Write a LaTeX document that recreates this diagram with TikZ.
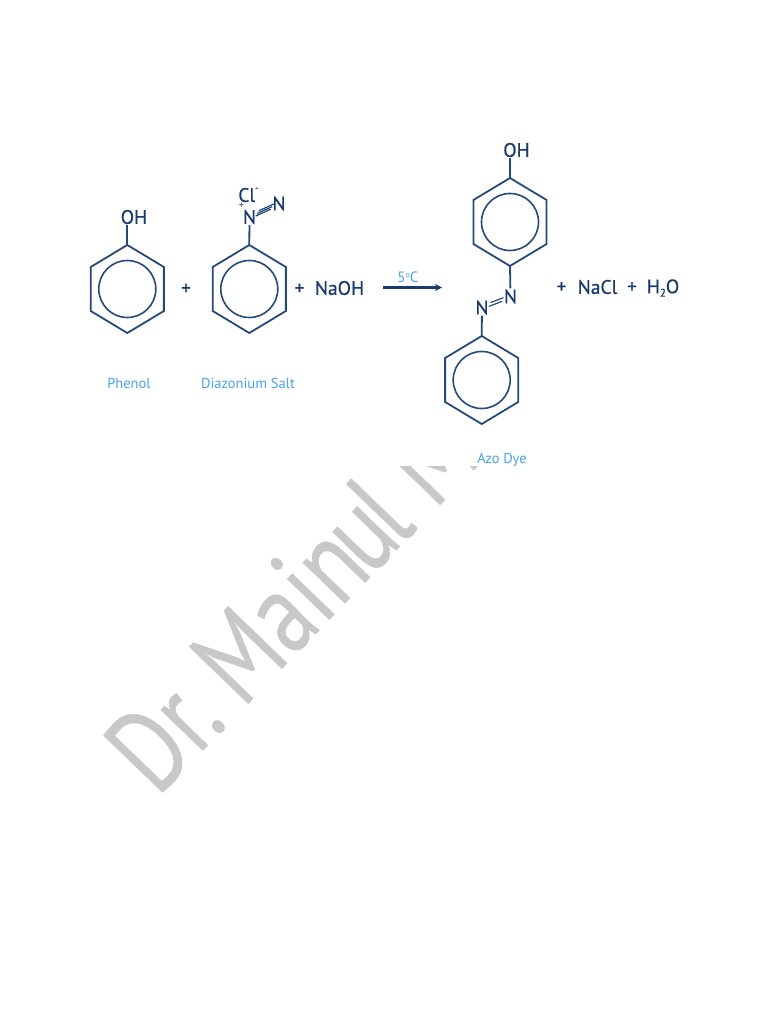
\documentclass[tikz,border=0pt]{standalone}
\usepackage{fontspec}
\setmainfont{PT Sans}
\newfontfamily\chemfont[FakeBold=0.6]{PT Sans}
\newfontfamily\markfont[FakeStretch=0.77,FakeBold=0.4]{PT Sans}
\usetikzlibrary{shapes.geometric,arrows.meta,positioning}
\definecolor{azonavy}{RGB}{24,58,112}
\definecolor{azoline}{RGB}{36,73,122}
\definecolor{azosky}{RGB}{74,163,240}
\definecolor{azomark}{RGB}{200,200,200}
\tikzset{
  ring/.style={draw=azoline, line width=1.8pt, regular polygon, regular polygon sides=6, shape border rotate=30, minimum size=88pt, inner sep=0pt, outer sep=0pt},
  inring/.style={draw=azoline, line width=1.6pt, circle, minimum size=57pt, inner sep=0pt, outer sep=0pt},
  bond/.style={draw=azoline, line width=1.8pt},
  triple/.style={draw=azoline, line width=1.2pt},
  chem/.style={font=\chemfont\fontsize{19.5}{19.5}\selectfont, text=azonavy, inner sep=1pt},
  caption/.style={font=\fontsize{14.5}{15}\selectfont, text=azosky, inner sep=0pt}
}

\begin{document}
\begin{tikzpicture}[x=1pt,y=-1pt]
\useasboundingbox (0,0) rectangle (768,1024);

% Watermark, cut off by the panel
\node[anchor=base west, rotate=46, inner sep=0pt, text=azomark, font=\markfont\fontsize{117}{117}\selectfont] (mark) at (157,798) {Dr.\kern-12pt{} Main\kern-6pt{}u\kern-6pt{}l\kern0pt{} Mi};
\node[fill=white, draw=none, minimum width=590pt, minimum height=326pt, anchor=north west, inner sep=0pt] (panel) at (90,140) {};

% Rings
\foreach \name/\x/\y in {phenol/127.3/289, salt/249.3/289, azotop/510/222, azolow/481.7/380} {
    \node[ring, xscale=0.96, transform shape] (\name) at (\x,\y) {};
    \node[inring] (\name in) at (\x,\y) {};
}

% Phenol
\node[chem] (oh1) at (134,217) {OH};
\draw[bond] (phenol.corner 1) -- (phenol.corner 1 |- oh1.south);
\node[caption] (phenolcap) at (129,383) {Phenol};

\node[chem] (plus1) at (186,289) {+};

% Diazonium salt
\node[chem] (cl) at (248.5,195) {Cl\raisebox{1.1ex}{\fontsize{10}{10}\selectfont -}};
\node[chem] (n1) at (249.5,217) {N};
\node[chem, font=\fontsize{10}{10}\selectfont] (nplus) at (241.5,206) {+};
\node[chem, inner sep=0pt] (n2) at (279,203.5) {N};
\draw[bond] (salt.corner 1) -- (n1);
\foreach \s in {-3,0,3} {
    \draw[triple, transform canvas={shift={(\s*0.5pt,\s*0.87pt)}}] (n1) -- (n2);
}
\node[caption] (saltcap) at (248,383) {Diazonium Salt};

% NaOH and the arrow
\node[chem] (plus2) at (299.5,289) {+};
\node[chem] (naoh) at (339.5,288) {NaOH};
\coordinate (arrowa) at (383,287.5);
\coordinate (arrowb) at (442,287.5);
\draw[-{Stealth[length=7pt,width=7pt]}, azonavy, line width=2.2pt] (arrowa) -- (arrowb);
\node[caption, font=\fontsize{15}{15}\selectfont] (temp) at (408,277) {5\raisebox{0.7ex}{\fontsize{8}{8}\selectfont o}C};

% Azo dye
\node[chem] (oh2) at (516.5,150) {OH};
\draw[bond] (azotop.corner 1) -- (azotop.corner 1 |- oh2.south);
\node[chem] (n3) at (510.5,296.5) {N};
\node[chem] (n4) at (482,307.5) {N};
\draw[bond] (azotop.corner 4) -- (n3);
\draw[bond] (azolow.corner 1) -- (n4);
\foreach \s in {-2,2} {
    \draw[triple, transform canvas={shift={(\s*0.36pt,\s*0.93pt)}}] (n3) -- (n4);
}
\node[caption] (azocap) at (502,459.5) {Azo Dye};

% Other products
\node[chem] (plus3) at (561.5,287.5) {+};
\node[chem] (nacl) at (597.5,287) {NaCl};
\node[chem] (plus4) at (632,287.5) {+};
\node[chem] (water) at (663,288) {H\raisebox{-0.35ex}{\fontsize{11}{11}\selectfont 2}O};
\end{tikzpicture}
\end{document}
